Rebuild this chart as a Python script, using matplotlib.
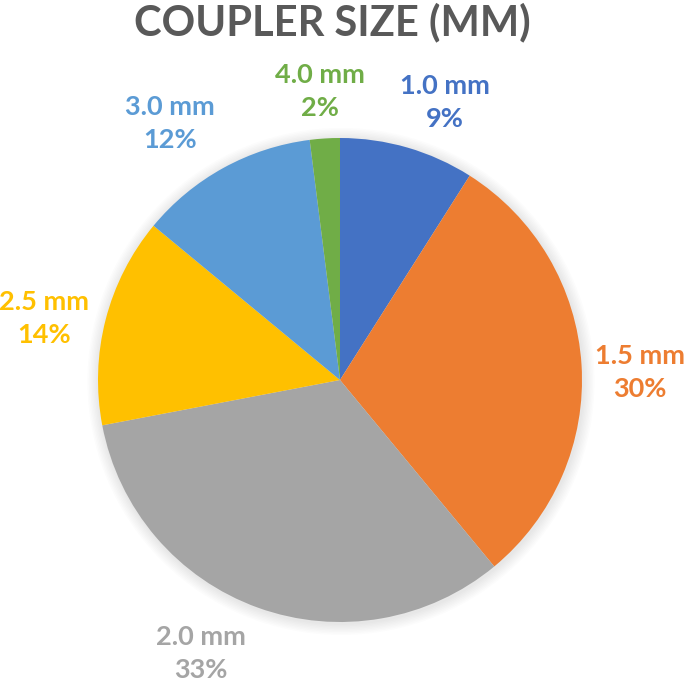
import numpy as np
import matplotlib.pyplot as plt
from matplotlib.patches import Circle

sizes = ["1.0 mm", "1.5 mm", "2.0 mm", "2.5 mm", "3.0 mm", "4.0 mm"]
shares = [9, 30, 33, 14, 12, 2]
colors = ["#4472C4", "#ED7D31", "#A5A5A5", "#FFC000", "#5B9BD5", "#70AD47"]

# label placement tweaks (distance from centre in radii, angle shift in degrees)
label_dist = [1.228, 1.24, 1.27, 1.25, 1.273, 1.193]
label_shift = [-4.5, -2.1, -7.2, 2.6, 4.7, 0.4]

plt.rcParams['font.family'] = ['Lato', 'DejaVu Sans']

fig = plt.figure(figsize=(6.85, 6.85), dpi=100)
fig.patch.set_facecolor("white")

# pie centred at (340, 380) px from top-left, radius ~242 px
cx, cy, r = 340 / 685, 1 - 380 / 685, 242 / 685
ax = fig.add_axes([cx - r, cy - r, 2 * r, 2 * r])
ax.axis("off")

# soft shadow behind the pie
for i in range(8):
    ax.add_patch(Circle((0.004, -0.006), 1 + 0.006 * (8 - i), color="black",
                        alpha=0.012, lw=0, zorder=0, clip_on=False))

labels = [f"{s}\n{p}%" for s, p in zip(sizes, shares)]
wedges, texts = ax.pie(shares, colors=colors, startangle=90, counterclock=False,
                       labels=labels, radius=1,
                       wedgeprops=dict(linewidth=0),
                       textprops=dict(fontsize=19.5, fontweight="bold", linespacing=1.45))
for w, t, c, d, s in zip(wedges, texts, colors, label_dist, label_shift):
    ang = np.deg2rad((w.theta1 + w.theta2) / 2 + s)
    t.set_position((d * np.cos(ang), d * np.sin(ang)))
    t.set_color(c)
    t.set_ha("center")
    t.set_va("center")
    t.set_clip_on(False)

ax.set_xlim(-1, 1)
ax.set_ylim(-1, 1)
ax.set_aspect("equal")

fig.text(332 / 685, 1 - 22 / 685, "COUPLER SIZE (MM)", ha="center", va="center",
         fontsize=30, fontweight="bold", color="#595959")

fig.savefig("out.png", dpi=100)
